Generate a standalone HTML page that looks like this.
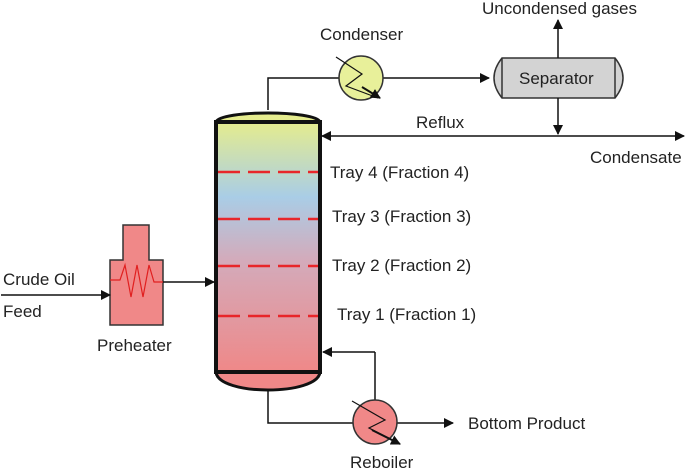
<!DOCTYPE html>
<html><head><meta charset="utf-8"><style>
html,body{margin:0;padding:0;background:#fff;}
svg{display:block;}
text{font-family:"Liberation Sans",sans-serif;font-size:17px;fill:#222;}
</style></head><body>
<svg width="685" height="470" viewBox="0 0 685 470" xmlns="http://www.w3.org/2000/svg">
<defs>
<linearGradient id="col" x1="0" y1="0" x2="0" y2="1">
<stop offset="0" stop-color="#e5ec8e"/>
<stop offset="0.3" stop-color="#a9cde6"/>
<stop offset="0.55" stop-color="#d3abbb"/>
<stop offset="1" stop-color="#ef8888"/>
</linearGradient>
<marker id="ah" markerWidth="10" markerHeight="10" refX="9" refY="5" orient="auto" markerUnits="userSpaceOnUse">
<path d="M0,0 L10,5 L0,10 z" fill="#111"/>
</marker>
</defs>

<!-- column -->
<path d="M216,122 C220,110 316,110 320,122 Z" fill="#e5ec8e" stroke="#111" stroke-width="3"/>
<path d="M216,372 C218,396 318,396 320,372 Z" fill="#ef8888" stroke="#111" stroke-width="3"/>
<rect x="216" y="122" width="104" height="250" fill="url(#col)" stroke="#111" stroke-width="4"/>
<g stroke="#e8262a" stroke-width="2.5" stroke-dasharray="22,8">
<line x1="218" y1="172" x2="318" y2="172"/>
<line x1="218" y1="219" x2="318" y2="219"/>
<line x1="218" y1="266" x2="318" y2="266"/>
<line x1="218" y1="316" x2="318" y2="316"/>
</g>
<text x="330" y="178">Tray 4 (Fraction 4)</text>
<text x="332" y="222">Tray 3 (Fraction 3)</text>
<text x="332" y="271">Tray 2 (Fraction 2)</text>
<text x="337" y="320">Tray 1 (Fraction 1)</text>

<!-- top lines -->
<polyline points="268,110 268,78 339,78" fill="none" stroke="#111" stroke-width="1.5"/>
<line x1="383" y1="78" x2="489" y2="78" stroke="#111" stroke-width="1.5" marker-end="url(#ah)"/>
<circle cx="361" cy="78" r="22" fill="#e8f09a" stroke="#333" stroke-width="1.5"/>
<polyline points="336,57 362,74 346,86 378,98" fill="none" stroke="#111" stroke-width="1.2"/>
<line x1="362" y1="87" x2="380" y2="98" stroke="#111" stroke-width="2" marker-end="url(#ah)"/>
<text x="320" y="40">Condenser</text>

<!-- separator -->
<path d="M502,58 L615,58 Q631,78 615,98 L502,98 Q486,78 502,58 Z" fill="#d3d3d3" stroke="#333" stroke-width="1.5"/>
<line x1="502" y1="58" x2="502" y2="98" stroke="#333" stroke-width="1.5"/>
<line x1="615" y1="58" x2="615" y2="98" stroke="#333" stroke-width="1.5"/>
<text x="519" y="84">Separator</text>
<line x1="558" y1="58" x2="558" y2="20" stroke="#111" stroke-width="1.5" marker-end="url(#ah)"/>
<line x1="558" y1="98" x2="558" y2="134" stroke="#111" stroke-width="1.5" marker-end="url(#ah)"/>
<text x="482" y="14">Uncondensed gases</text>

<!-- reflux -->
<line x1="558" y1="136" x2="322" y2="136" stroke="#111" stroke-width="1.5" marker-end="url(#ah)"/>
<line x1="558" y1="136" x2="684" y2="136" stroke="#111" stroke-width="1.5" marker-end="url(#ah)"/>
<text x="416" y="128">Reflux</text>
<text x="590" y="163">Condensate</text>

<!-- preheater -->
<path d="M123,225 L149,225 L149,260 L163,260 L163,325 L110,325 L110,260 L123,260 Z" fill="#f08888" stroke="#333" stroke-width="1.5"/>
<polyline points="110,280 120,280 125,265 131,297 137,265 143,297 149,265 154,282 163,282" fill="none" stroke="#e02020" stroke-width="1.2"/>
<line x1="1" y1="295" x2="110" y2="295" stroke="#111" stroke-width="1.5" marker-end="url(#ah)"/>
<line x1="163" y1="282" x2="214" y2="282" stroke="#111" stroke-width="1.5" marker-end="url(#ah)"/>
<text x="3" y="285">Crude Oil</text>
<text x="3" y="317">Feed</text>
<text x="97" y="351">Preheater</text>

<!-- reboiler -->
<polyline points="268,390 268,423 353,423" fill="none" stroke="#111" stroke-width="1.5"/>
<polyline points="375,400 375,352" fill="none" stroke="#111" stroke-width="1.5"/>
<line x1="375" y1="352" x2="323" y2="352" stroke="#111" stroke-width="1.5" marker-end="url(#ah)"/>
<line x1="397" y1="423" x2="453" y2="423" stroke="#111" stroke-width="1.5" marker-end="url(#ah)"/>
<circle cx="375" cy="422" r="22" fill="#f08888" stroke="#333" stroke-width="1.5"/>
<polyline points="352,401 385,420 369,428 392,440" fill="none" stroke="#111" stroke-width="1.2"/>
<line x1="372" y1="430" x2="400" y2="444" stroke="#111" stroke-width="2" marker-end="url(#ah)"/>
<text x="468" y="429">Bottom Product</text>
<text x="350" y="468">Reboiler</text>
</svg>
</body></html>
